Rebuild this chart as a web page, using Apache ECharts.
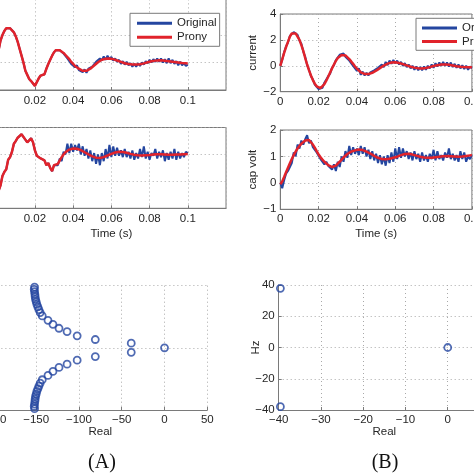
<!DOCTYPE html>
<html>
<head>
<meta charset="utf-8">
<script src="https://cdn.jsdelivr.net/npm/echarts@6/dist/echarts.min.js"></script>
<style>
html,body{margin:0;padding:0;background:#fff;}
#c{width:474px;height:474px;}
</style>
</head>
<body>
<div id="c"></div>
<script>
// ---------- DATA ----------
// sample times (s), 1 ms step, 0..0.1
const timeS = Array.from({length: 101}, (_, i) => +(i * 0.001).toFixed(3));

// (A) current: original and Prony
const currentA_orig = [0.0, 0.9, 1.6, 2.0, 2.3, 2.5, 2.6, 2.5, 2.35, 2.2,
  1.9, 1.5, 1.0, 0.5, 0.0, -0.6, -0.9, -1.2, -1.35, -1.45,
  -1.7, -1.75, -1.15, -0.95, -1.0, -0.85, -0.45, -0.1, 0.2, 0.5,
  0.75, 0.9, 0.85, 0.9, 0.82, 0.65, 0.6, 0.3, 0.35, -0.1,
  0.0, -0.35, -0.2, -0.55, -0.45, -0.7, -0.5, -0.75, -0.45, -0.55,
  -0.3, -0.3, 0.05, -0.05, 0.3, 0.15, 0.45, 0.2, 0.5, 0.25,
  0.4, 0.15, 0.3, 0.05, 0.2, -0.1, 0.1, -0.15, 0.05, -0.2,
  -0.05, -0.3, -0.1, -0.3, -0.05, -0.25, 0.0, -0.15, 0.1, -0.05,
  0.2, 0.0, 0.25, 0.05, 0.3, 0.05, 0.3, 0.0, 0.25, -0.05,
  0.3, -0.05, 0.2, -0.1, 0.1, -0.2, 0.05, -0.2, -0.05, -0.25,
  -0.15];
const currentA_prony = [0.0, 0.9, 1.6, 2.0, 2.3, 2.5, 2.6, 2.5, 2.35, 2.2,
  1.9, 1.5, 1.0, 0.5, 0.0, -0.6, -0.9, -1.2, -1.35, -1.45,
  -1.7, -1.75, -1.15, -0.95, -1.0, -0.85, -0.45, -0.1, 0.2, 0.5,
  0.75, 0.9, 0.85, 0.9, 0.82, 0.7, 0.55, 0.4, 0.25, 0.05,
  -0.1, -0.25, -0.35, -0.45, -0.55, -0.6, -0.62, -0.6, -0.52, -0.45,
  -0.35, -0.22, -0.1, 0.02, 0.12, 0.2, 0.25, 0.28, 0.3, 0.3,
  0.28, 0.25, 0.2, 0.15, 0.1, 0.05, 0.0, -0.05, -0.08, -0.1,
  -0.12, -0.14, -0.15, -0.15, -0.14, -0.12, -0.1, -0.06, -0.02, 0.02,
  0.06, 0.09, 0.12, 0.14, 0.15, 0.16, 0.16, 0.15, 0.14, 0.12,
  0.1, 0.08, 0.06, 0.04, 0.02, 0.0, -0.02, -0.04, -0.05, -0.06,
  -0.07];

// (A) capacitor voltage
const capA_orig = [-0.6, -0.35, -0.15, 0.2, 0.35, 0.45, 0.8, 0.9, 1.1, 1.4,
  1.5, 1.62, 1.55, 1.75, 1.8, 1.55, 1.45, 1.5, 1.6, 1.45,
  1.15, 0.95, 0.9, 0.85, 0.8, 0.78, 0.6, 0.68, 0.5, 0.38,
  0.6, 0.55, 0.6, 0.85, 0.75, 1.1, 1.0, 1.4, 1.05, 1.4,
  1.1, 1.35, 1.15, 1.4, 1.0, 1.3, 0.95, 1.2, 0.85, 1.15,
  0.75, 1.05, 0.65, 1.0, 0.6, 1.05, 0.75, 1.2, 0.85, 1.35,
  0.9, 1.3, 0.95, 1.25, 0.95, 1.15, 0.9, 1.2, 0.9, 1.1,
  0.85, 1.15, 0.8, 1.05, 0.85, 1.2, 0.9, 1.3, 0.85, 1.1,
  0.8, 1.05, 0.95, 1.2, 0.85, 1.1, 0.9, 1.15, 0.75, 1.05,
  0.8, 1.1, 0.85, 1.2, 0.8, 1.1, 0.85, 1.05, 0.9, 1.1,
  1.05];
const capA_prony = [-0.6, -0.35, -0.15, 0.2, 0.35, 0.45, 0.8, 0.9, 1.1, 1.4,
  1.5, 1.62, 1.55, 1.75, 1.8, 1.55, 1.45, 1.5, 1.6, 1.45,
  1.15, 0.95, 0.9, 0.85, 0.8, 0.78, 0.6, 0.68, 0.5, 0.38,
  0.6, 0.55, 0.65, 0.78, 0.9, 1.0, 1.08, 1.14, 1.18, 1.21,
  1.22, 1.22, 1.21, 1.19, 1.16, 1.12, 1.08, 1.04, 1.0, 0.96,
  0.93, 0.9, 0.88, 0.87, 0.87, 0.88, 0.9, 0.93, 0.96, 0.99,
  1.02, 1.05, 1.07, 1.09, 1.1, 1.1, 1.09, 1.08, 1.06, 1.04,
  1.02, 1.0, 0.99, 0.98, 0.97, 0.96, 0.96, 0.96, 0.97, 0.97,
  0.98, 0.99, 1.0, 1.0, 1.01, 1.01, 1.01, 1.01, 1.0, 1.0,
  0.99, 0.99, 0.99, 0.99, 1.0, 1.0, 1.0, 1.01, 1.01, 1.02,
  1.02];

// (B) current
const currentB_orig = [0.0, 0.45, 1.05, 1.5, 1.8, 2.3, 2.45, 2.6, 2.45, 2.4,
  1.95, 1.7, 1.1, 0.7, 0.05, -0.3, -0.8, -1.05, -1.45, -1.5,
  -1.8, -1.65, -1.7, -1.3, -1.25, -0.8, -0.6, -0.15, 0.05, 0.45,
  0.55, 0.85, 0.75, 0.95, 0.7, 0.8, 0.4, 0.45, 0.0, 0.1,
  -0.4, -0.2, -0.7, -0.45, -0.75, -0.55, -0.75, -0.5, -0.65, -0.35,
  -0.5, -0.15, -0.3, 0.1, -0.1, 0.3, 0.05, 0.4, 0.15, 0.45,
  0.2, 0.4, 0.1, 0.3, 0.0, 0.2, -0.1, 0.1, -0.2, 0.0,
  -0.3, -0.05, -0.35, -0.1, -0.35, -0.05, -0.3, 0.0, -0.2, 0.1,
  -0.15, 0.2, -0.05, 0.25, 0.0, 0.3, 0.0, 0.25, -0.05, 0.25,
  -0.1, 0.15, -0.15, 0.1, -0.2, 0.05, -0.25, 0.0, -0.3, -0.05,
  -0.2];
const currentB_prony = [0.0, 0.5, 1.0, 1.45, 1.85, 2.25, 2.5, 2.58, 2.5, 2.35,
  2.0, 1.6, 1.15, 0.6, 0.1, -0.35, -0.75, -1.1, -1.38, -1.58,
  -1.7, -1.72, -1.62, -1.42, -1.15, -0.85, -0.52, -0.2, 0.1, 0.38,
  0.6, 0.75, 0.83, 0.85, 0.8, 0.68, 0.52, 0.34, 0.15, -0.05,
  -0.22, -0.37, -0.5, -0.58, -0.63, -0.65, -0.64, -0.6, -0.54, -0.46,
  -0.38, -0.28, -0.18, -0.08, 0.02, 0.1, 0.17, 0.22, 0.25, 0.27,
  0.27, 0.25, 0.22, 0.18, 0.13, 0.08, 0.03, -0.02, -0.07, -0.11,
  -0.14, -0.17, -0.19, -0.2, -0.2, -0.19, -0.17, -0.14, -0.1, -0.06,
  -0.02, 0.02, 0.05, 0.08, 0.1, 0.11, 0.11, 0.1, 0.08, 0.06,
  0.03, 0.0, -0.03, -0.05, -0.07, -0.09, -0.1, -0.11, -0.12, -0.12,
  -0.12];

// (B) capacitor voltage
const capB_orig = [0.0, -0.2, 0.1, 0.35, 0.45, 0.6, 0.75, 1.15, 1.0, 1.45,
  1.3, 1.6, 1.45, 1.65, 1.8, 1.5, 1.6, 1.35, 1.4, 1.15,
  1.2, 0.9, 0.95, 0.7, 0.8, 0.65, 0.7, 0.5, 0.7, 0.45,
  0.8, 0.6, 1.0, 0.8, 1.2, 0.95, 1.4, 1.05, 1.35, 1.1,
  1.3, 1.05, 1.4, 1.1, 1.35, 1.0, 1.25, 0.9, 1.2, 0.85,
  1.1, 0.75, 1.05, 0.7, 1.0, 0.65, 1.05, 0.75, 1.15, 0.8,
  1.3, 0.9, 1.35, 0.95, 1.3, 1.0, 1.2, 0.9, 1.15, 0.85,
  1.2, 0.9, 1.1, 0.8, 1.15, 0.85, 1.05, 0.8, 1.1, 0.9,
  1.25, 0.85, 1.2, 0.9, 1.05, 0.85, 1.15, 0.95, 1.3, 0.9,
  1.1, 0.85, 1.05, 0.8, 1.2, 0.9, 1.15, 0.8, 1.0, 0.9,
  1.05];
const capB_prony = [-0.05, 0.05, 0.22, 0.4, 0.57, 0.74, 0.9, 1.05, 1.18, 1.3,
  1.4, 1.48, 1.55, 1.6, 1.63, 1.62, 1.55, 1.45, 1.33, 1.2,
  1.08, 0.97, 0.88, 0.8, 0.73, 0.67, 0.62, 0.6, 0.6, 0.65,
  0.72, 0.8, 0.88, 0.96, 1.03, 1.09, 1.14, 1.18, 1.21, 1.23,
  1.25, 1.26, 1.26, 1.24, 1.21, 1.18, 1.15, 1.11, 1.06, 1.02,
  0.98, 0.95, 0.92, 0.9, 0.89, 0.89, 0.9, 0.91, 0.93, 0.95,
  0.97, 0.99, 1.02, 1.05, 1.07, 1.09, 1.1, 1.1, 1.09, 1.07,
  1.05, 1.03, 1.01, 0.99, 0.97, 0.96, 0.95, 0.95, 0.95, 0.95,
  0.96, 0.97, 0.98, 0.99, 1.0, 1.01, 1.02, 1.02, 1.02, 1.01,
  1.0, 1.0, 0.99, 0.99, 0.99, 1.0, 1.01, 1.02, 1.03, 1.04,
  1.05];

// (A) poles: real part and imaginary part
const polesA_real = [-151.9, -152.3, -151.9, -151.5, -151.2, -150.8, -150.0, -149.2, -148.0, -146.8,
  -145.3, -142.9, -136.2, -130.4, -123.3, -113.9, -102.1, -80.9, -38.9, 0.0,
  -38.9, -80.9, -102.1, -113.9, -123.3, -130.4, -136.2, -142.9, -145.3, -146.8,
  -148.0, -149.2, -150.0, -150.8, -151.2, -151.5, -151.9, -152.3, -151.9];
const polesA_imag = [978, 941, 904, 861, 823, 781, 743, 700, 658, 615,
  567, 513, 443, 379, 315, 262, 193, 134, 75, 0,
  -72, -140, -199, -262, -315, -379, -443, -513, -567, -615,
  -658, -700, -743, -781, -823, -861, -904, -941, -978];

// (B) poles: real part and frequency (Hz)
const polesB_real = [-39.6, -39.6, 0.0];
const polesB_hz = [37.9, -37.9, 0.0];

// ---------- STYLE ----------
const BLUE = '#2446a0';
const RED = '#e1232b';
const AXIS = '#7a7a7a';
const TEXT = '#262626';
const GRID = '#a9a9a9';
const FONT = 'Liberation Sans, Arial, sans-serif';

function fmt(v) {
  return String(Math.round(v * 1e6) / 1e6).replace('-', '\u2212');
}
function pairs(xs, ys) { return xs.map((x, i) => [x, ys[i]]); }

function axisBase(extra) {
  return Object.assign({
    type: 'value',
    axisLine: { show: true, onZero: false, lineStyle: { color: AXIS, width: 1 } },
    axisTick: { show: true, inside: true, length: 3, lineStyle: { color: AXIS } },
    axisLabel: { color: TEXT, fontSize: 11.5, fontFamily: FONT, margin: 4, formatter: fmt, hideOverlap: false },
    splitLine: { show: true, lineStyle: { color: GRID, type: [1, 3], width: 1 } },
    nameTextStyle: { color: TEXT, fontSize: 11.5, fontFamily: FONT },
    nameLocation: 'middle',
    nameMoveOverlap: false
  }, extra);
}

function gridAt(l, t, w, h, box) {
  const g = { left: l, top: t, width: w, height: h, containLabel: false, outerBoundsMode: 'none' };
  if (box) { g.show = true; g.borderColor = AXIS; g.borderWidth = 1; g.backgroundColor = 'rgba(0,0,0,0)'; }
  return g;
}

const grids = [
  gridAt(-3.3, -0.6, 229.3, 90.6, true),
  gridAt(280.3, 14, 191.6, 77.7, true),
  gridAt(-3.3, 127.5, 229.3, 80.8, true),
  gridAt(280.3, 130, 191.6, 79.3, true),
  gridAt(-6.6, 285.7, 213.9, 124.3, false),
  gridAt(278.7, 285, 211.3, 125, false)
];

const labelNoMax = { color: TEXT, fontSize: 11.5, fontFamily: FONT, margin: 5, formatter: fmt, showMaxLabel: false };

const xAxes = [
  axisBase({ gridIndex: 0, min: 0, max: 0.12, interval: 0.02, axisLabel: labelNoMax }),
  axisBase({ gridIndex: 1, min: 0, max: 0.1, interval: 0.02 }),
  axisBase({ gridIndex: 2, min: 0, max: 0.12, interval: 0.02, name: 'Time (s)', nameGap: 19.5, axisLabel: labelNoMax }),
  axisBase({ gridIndex: 3, min: 0, max: 0.1, interval: 0.02, name: 'Time (s)', nameGap: 18.5 }),
  axisBase({ gridIndex: 4, min: -200, max: 50, interval: 50, name: 'Real', nameGap: 16 }),
  axisBase({ gridIndex: 5, min: -40, max: 10, interval: 10, name: 'Real', nameGap: 16 })
];

const yAxes = [
  axisBase({ gridIndex: 0, min: -2, max: 4.6, interval: 2,
    splitLine: { show: true, lineStyle: { color: [GRID, GRID, GRID, 'rgba(0,0,0,0)', 'rgba(0,0,0,0)'], type: [1, 3], width: 1 } } }),
  axisBase({ gridIndex: 1, min: -2, max: 4, interval: 2, name: 'current', nameGap: 21 }),
  axisBase({ gridIndex: 2, min: -1, max: 2, interval: 1 }),
  axisBase({ gridIndex: 3, min: -1, max: 2, interval: 1, name: 'cap volt', nameGap: 21 }),
  axisBase({ gridIndex: 4, min: -1000, max: 1000, interval: 1000 }),
  axisBase({ gridIndex: 5, min: -40, max: 40, interval: 20, name: 'Hz', nameGap: 17 })
];

function lineSeries(name, data, idx, color, width) {
  return {
    type: 'line', name: name, xAxisIndex: idx, yAxisIndex: idx,
    data: pairs(timeS, data), showSymbol: false, symbol: 'none',
    lineStyle: { color: color, width: width }, itemStyle: { color: color },
    clip: true, z: name === 'Prony' ? 3 : 2
  };
}
function poleSeries(xs, ys, idx) {
  return {
    type: 'scatter', xAxisIndex: idx, yAxisIndex: idx,
    data: pairs(xs, ys), symbol: 'circle', symbolSize: 7,
    itemStyle: { color: 'rgba(0,0,0,0)', borderColor: BLUE, borderWidth: 1.8 }
  };
}

function legendAt(left, top, lh, pad) {
  return {
    data: ['Original', 'Prony'], orient: 'vertical', left: left, top: top,
    icon: 'rect', itemWidth: 35, itemHeight: 3, itemGap: 0,
    padding: pad, borderColor: AXIS, borderWidth: 1, backgroundColor: '#fff',
    textStyle: { color: TEXT, fontSize: 11.5, fontFamily: FONT, lineHeight: lh, padding: [0, 0, 0, 0] },
    selectedMode: false
  };
}

const option = {
  animation: false,
  backgroundColor: '#fff',
  grid: grids,
  xAxis: xAxes,
  yAxis: yAxes,
  legend: [
    legendAt(130, 13.3, 14, [3, 3, 2, 7]),
    legendAt(416, 18.3, 13.5, [3, 3, 2, 6])
  ],
  series: [
    lineSeries('Original', currentA_orig, 0, BLUE, 2),
    lineSeries('Prony', currentA_prony, 0, RED, 2.5),
    lineSeries('Original', currentB_orig, 1, BLUE, 2),
    lineSeries('Prony', currentB_prony, 1, RED, 2.5),
    lineSeries('Original', capA_orig, 2, BLUE, 2),
    lineSeries('Prony', capA_prony, 2, RED, 2.5),
    lineSeries('Original', capB_orig, 3, BLUE, 2),
    lineSeries('Prony', capB_prony, 3, RED, 2.5),
    poleSeries(polesA_real, polesA_imag, 4),
    poleSeries(polesB_real, polesB_hz, 5)
  ],
  graphic: [
    { type: 'text', x: 102, y: 463, style: { text: '(A)', fill: '#111', font: '20px "Liberation Serif", "Times New Roman", serif', textAlign: 'center', textVerticalAlign: 'middle' } },
    { type: 'text', x: 385, y: 463, style: { text: '(B)', fill: '#111', font: '20px "Liberation Serif", "Times New Roman", serif', textAlign: 'center', textVerticalAlign: 'middle' } }
  ]
};

const chart = echarts.init(document.getElementById('c'), null, { renderer: 'canvas' });
chart.setOption(option);
</script>
</body>
</html>
